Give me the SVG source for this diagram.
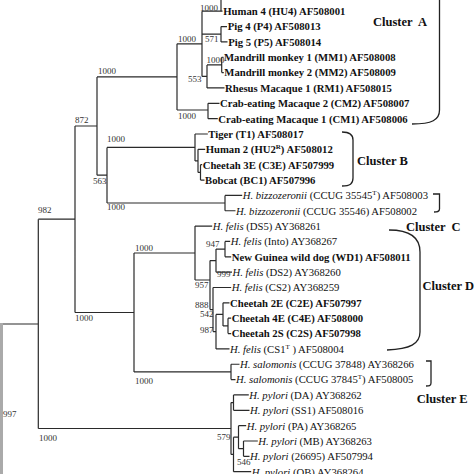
<svg xmlns="http://www.w3.org/2000/svg" width="474" height="474" viewBox="0 0 474 474">
<style>
text{font-family:"Liberation Serif","Times New Roman",serif;fill:#111}
.b{font-size:10.7px;font-weight:bold}
.n{font-size:10.7px}
.i{font-style:italic}
.bs{font-size:9px;fill:#333}
.cl{font-size:12.5px;font-weight:bold;white-space:pre}
.ln{fill:none;stroke:#2a2a2a;stroke-width:1.2}
.br{fill:none;stroke:#222;stroke-width:1.3}
</style>
<rect width="474" height="474" fill="#fff"/>
<g id="connectors">
<path class="ln" d="M221,0V11.2M202,11.2H222.5M221,26.55V41.9M221,26.55H227M221,41.9H227.5M202,34.2H221M221.7,57.25V72.6M221.7,57.25H223.5M221.7,72.6H223.8M207,64.9H221.7M207,87.95H224.5M207,64.9V87.95M202,76.4H207M202,11.2V76.4M177,43.8H202M208,103.3V118.65M208,103.3H219.5M208,118.65H217.8M177,110H208M177,43.8V110M97,76.9H177"/>
<path class="ln" d="M195,134H207.8M198,149.35H205.2M200.5,164.7H202.2M200.5,180.05H204.5M198,172.4H200.5M198,149.35V172.4M195,160.9H198M195,134V160.9M107,147.4H195M225,195.4V210.75M225,195.4H242.2M225,210.75H235.5M107,203H225M107,147.4V203M97,175.2H107M97,76.9V175.2M75,126H97"/>
<path class="ln" stroke-width="2" d="M200.5,164.7V180.05"/>
<path class="ln" d="M195,226.1H212.2M225,241.45V256.8M225,241.45H230.2M225,256.8H231.2M216,249.1H225M216,272.15H232M216,249.1V272.15M213,287.5H231.2M228,318.2V333.55M228,318.2H231.2M228,333.55H231.2M223,302.85H229.5M223,325.9H228M223,302.85V325.9M216,314.4H223M216,348.9H229.5M216,314.4V348.9M213,331.6H216M213,287.5V331.6M210,309.6H213M210,260.6H216M210,260.6V309.6M195,280H210M195,226.1V280M134,253H195M231,364.25V379.6M231,364.25H239.5M231,379.6H235.5M134,371.9H231M134,253V371.9M75,312.5H134M75,126V312.5M38.3,219.2H75"/>
<path class="ln" d="M233.5,394.95V410.3M233.5,394.95H248.8M233.5,410.3H249.5M231,402.6H233.5M238.5,425.65H246.2M243.5,441V456.35M243.5,441H257.8M243.5,456.35H249.5M238.5,448.7H243.5M238.5,425.65V448.7M233.5,437.2H238.5M233.5,471.7H251.2M233.5,437.2V471.7M231,402.6V454.4M231,454.4H233.5M38.3,428.5H231M38.3,219.2V428.5M1.5,324H38.3"/>
<path fill="none" stroke="#aaa" stroke-width="3" d="M1.5,323V474"/>
</g>
<g id="brackets">
<path class="br" d="M439.5,0V110C439.5,120 432,124 412,124"/>
<path class="br" d="M342,132C350,132 353,135 353,140V178C353,184 350,186 342,186"/>
<path class="br" d="M433,194H439.5V209C439.5,212 437,212 434,212"/>
<path class="br" d="M389,230C410,230 420,238 420,252V332C420,344 410,349 387,350"/>
<path class="br" d="M426,361H431V383C431,386 429,386 426,386"/>
</g>
<g id="bootstrap">
<text class="bs" x="200" y="10.5">1000</text>
<text class="bs" x="205" y="41.7">571</text>
<text class="bs" x="178" y="42">1000</text>
<text class="bs" x="206.5" y="62.5">1000</text>
<text class="bs" x="188" y="82">553</text>
<text class="bs" x="178" y="118.5">1000</text>
<text class="bs" x="98" y="74">1000</text>
<text class="bs" x="75" y="123">872</text>
<text class="bs" x="107" y="142">1000</text>
<text class="bs" x="93" y="184">563</text>
<text class="bs" x="107" y="210">1000</text>
<text class="bs" x="38" y="213">982</text>
<text class="bs" x="135" y="251">1000</text>
<text class="bs" x="206" y="247">947</text>
<text class="bs" x="217" y="277">999</text>
<text class="bs" x="195" y="288">957</text>
<text class="bs" x="195" y="308">888</text>
<text class="bs" x="200" y="317">542</text>
<text class="bs" x="200" y="333">987</text>
<text class="bs" x="75" y="321">1000</text>
<text class="bs" x="135" y="384">1000</text>
<text class="bs" x="3" y="417">997</text>
<text class="bs" x="39" y="441">1000</text>
<text class="bs" x="217" y="440">579</text>
<text class="bs" x="237" y="465">546</text>
</g>
<g id="clusters">
<text class="cl" x="373" y="26" xml:space="preserve">Cluster  A</text>
<text class="cl" x="357" y="165">Cluster B</text>
<text class="cl" x="406" y="230.5" xml:space="preserve">Cluster  C</text>
<text class="cl" x="422.5" y="290">Cluster D</text>
<text class="cl" x="416.7" y="403">Cluster E</text>
</g>
<g id="leaf-HU4"><text class="b" x="223.3" y="15">Human 4 (HU4) AF508001</text></g>
<g id="leaf-P4"><text class="b" x="227.7" y="30.4">Pig 4 (P4) AF508013</text></g>
<g id="leaf-P5"><text class="b" x="228.3" y="45.7">Pig 5 (P5) AF508014</text></g>
<g id="leaf-MM1"><text class="b" x="224" y="61">Mandrill monkey 1 (MM1) AF508008</text></g>
<g id="leaf-MM2"><text class="b" x="224.3" y="76.4">Mandrill monkey 2 (MM2) AF508009</text></g>
<g id="leaf-RM1"><text class="b" x="225" y="91.8">Rhesus Macaque 1 (RM1) AF508015</text></g>
<g id="leaf-CM2"><text class="b" x="220" y="107.1">Crab-eating Macaque 2 (CM2) AF508007</text></g>
<g id="leaf-CM1"><text class="b" x="218.3" y="122.5">Crab-eating Macaque 1 (CM1) AF508006</text></g>
<g id="leaf-T1"><text class="b" x="208.3" y="137.8">Tiger (T1) AF508017</text></g>
<g id="leaf-HU2"><text class="b" x="205.7" y="153.2">Human 2 (HU2<tspan font-size="7" dy="-4">R</tspan><tspan dy="4">) AF508012</tspan></text></g>
<g id="leaf-C3E"><text class="b" x="202.7" y="168.5">Cheetah 3E (C3E) AF507999</text></g>
<g id="leaf-BC1"><text class="b" x="205" y="183.9">Bobcat (BC1) AF507996</text></g>
<g id="leaf-bizz1"><text class="n" x="242.7" y="199.2"><tspan class="i">H. bizzozeronii</tspan> (CCUG 35545<tspan font-size="7" dy="-4">T</tspan><tspan dy="4">) AF508003</tspan></text></g>
<g id="leaf-bizz2"><text class="n" x="236" y="214.6"><tspan class="i">H. bizzozeronii</tspan> (CCUG 35546) AF508002</text></g>
<g id="leaf-DS5"><text class="n" x="212.7" y="229.9"><tspan class="i">H. felis</tspan> (DS5) AY368261</text></g>
<g id="leaf-Into"><text class="n" x="230.7" y="245.3"><tspan class="i">H. felis</tspan> (Into) AY368267</text></g>
<g id="leaf-WD1"><text class="b" x="231.7" y="260.6">New Guinea wild dog (WD1) AF508011</text></g>
<g id="leaf-DS2"><text class="n" x="232.5" y="276"><tspan class="i">H. felis</tspan> (DS2) AY368260</text></g>
<g id="leaf-CS2"><text class="n" x="231.7" y="291.3"><tspan class="i">H. felis</tspan> (CS2) AY368259</text></g>
<g id="leaf-C2E"><text class="b" x="230" y="306.7">Cheetah 2E (C2E) AF507997</text></g>
<g id="leaf-C4E"><text class="b" x="231.7" y="322">Cheetah 4E (C4E) AF508000</text></g>
<g id="leaf-C2S"><text class="b" x="231.7" y="337.4">Cheetah 2S (C2S) AF507998</text></g>
<g id="leaf-CS1"><text class="n" x="230" y="352.7"><tspan class="i">H. felis</tspan> (CS1<tspan font-size="7" dy="-4">T</tspan><tspan dy="4"> ) AF508004</tspan></text></g>
<g id="leaf-sal1"><text class="n" x="240" y="368.1"><tspan class="i">H. salomonis</tspan> (CCUG 37848) AY368266</text></g>
<g id="leaf-sal2"><text class="n" x="236" y="383.4"><tspan class="i">H. salomonis</tspan> (CCUG 37845<tspan font-size="7" dy="-4">T</tspan><tspan dy="4">) AF508005</tspan></text></g>
<g id="leaf-DA"><text class="n" x="249.3" y="398.8"><tspan class="i">H. pylori</tspan> (DA) AY368262</text></g>
<g id="leaf-SS1"><text class="n" x="250" y="414.1"><tspan class="i">H. pylori</tspan> (SS1) AF508016</text></g>
<g id="leaf-PA"><text class="n" x="246.7" y="429.5"><tspan class="i">H. pylori</tspan> (PA) AY368265</text></g>
<g id="leaf-MB"><text class="n" x="258.3" y="444.8"><tspan class="i">H. pylori</tspan> (MB) AY368263</text></g>
<g id="leaf-26695"><text class="n" x="250" y="460.2"><tspan class="i">H. pylori</tspan> (26695) AF507994</text></g>
<g id="leaf-OB"><text class="n" x="251.7" y="475.5"><tspan class="i">H. pylori</tspan> (OB) AY368264</text></g>
</svg>
